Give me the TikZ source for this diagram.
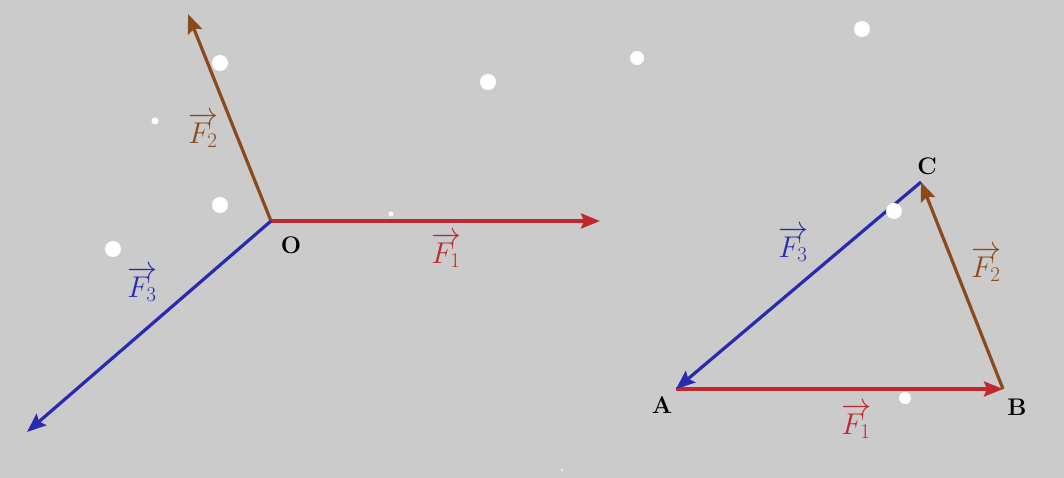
\RequirePackage{fix-cm}
\documentclass[tikz,border=0pt]{standalone}
\usetikzlibrary{arrows.meta}
\definecolor{bg}{HTML}{CBCBCB}
\definecolor{fred}{HTML}{C0282D}
\definecolor{fbrown}{HTML}{8A4A1C}
\definecolor{fblue}{HTML}{2A2AB0}
\begin{document}
\begin{tikzpicture}[x=1pt,y=-1pt,
  vec/.style={line width=3.2pt,-{Stealth[length=19pt,width=15pt,inset=3pt]}},
  pt/.style={font=\fontsize{24}{27}\selectfont\bfseries, inner sep=0pt},
  lab/.style={font=\fontsize{30}{34}\selectfont, inner sep=0pt},
  dot/.style={fill=white, draw=none}]
\fill[bg] (0,0) rectangle (1064,478);
\useasboundingbox (0,0) rectangle (1064,478);
% left figure
\coordinate (O) at (271,221);
\coordinate (P1) at (600,221);
\coordinate (P2) at (188,14);
\coordinate (P3) at (27,432);
\draw[vec,fred] (O) -- (P1);
\draw[vec,fbrown] (O) -- (P2);
\draw[vec,fblue] (O) -- (P3);
\node[pt] (lO) at (291,245) {O};
\node[lab,text=fred] (l1) at (446,250) {$\overrightarrow{F_1}$};
\node[lab,text=fbrown] (l2) at (203,130) {$\overrightarrow{F_2}$};
\node[lab,text=fblue] (l3) at (142,284) {$\overrightarrow{F_3}$};
% triangle
\coordinate (A) at (676,389);
\coordinate (B) at (1003,389);
\coordinate (C) at (921,182);
\draw[vec,fred] (A) -- (B);
\draw[vec,fbrown] (B) -- (C);
\draw[vec,fblue] (C) -- (A);
\node[pt] (lA) at (662,405) {A};
\node[pt] (lB) at (1017,407) {B};
\node[pt] (lC) at (927,166) {C};
\node[lab,text=fblue] (t3) at (793,244) {$\overrightarrow{F_3}$};
\node[lab,text=fbrown] (t2) at (986,264) {$\overrightarrow{F_2}$};
\node[lab,text=fred] (t1) at (856,421) {$\overrightarrow{F_1}$};
% white dots
\foreach \x/\y/\r in {220/63/8,155/121/3.5,220/205/8,113/249/8,488/82/8,637/58/7,862/29/8,391/214/2.5,894/211/8,905/398/6,562/470/1.2}
  \fill[dot] (\x,\y) circle[radius=\r];
\end{tikzpicture}
\end{document}
